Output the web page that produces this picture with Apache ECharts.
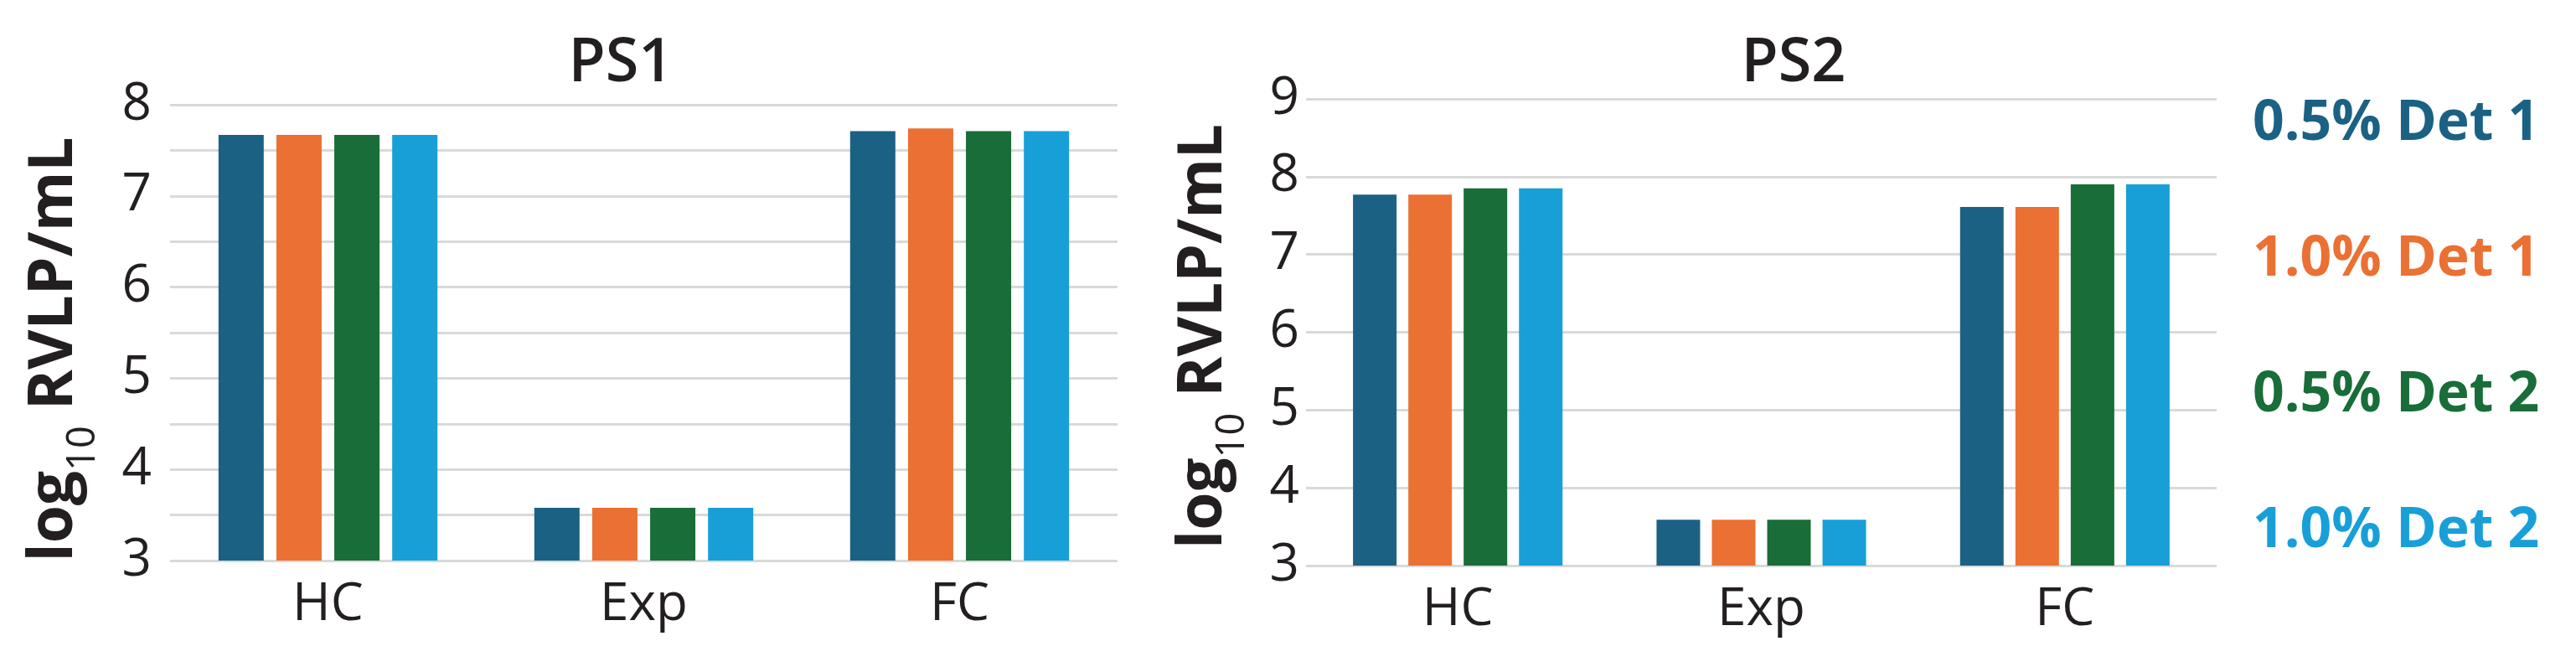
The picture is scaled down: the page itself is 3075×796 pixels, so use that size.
<!DOCTYPE html>
<html>
<head>
<meta charset="utf-8">
<script src="https://cdn.jsdelivr.net/npm/echarts@6/dist/echarts.min.js"></script>
<style>
  html, body { margin: 0; padding: 0; background: #fff; }
  #chart { width: 3075px; height: 796px; }
</style>
</head>
<body>
<div id="chart"></div>
<script>
// categories and series names
var categories = ['HC', 'Exp', 'FC'];
var seriesNames = ['0.5% Det 1', '1.0% Det 1', '0.5% Det 2', '1.0% Det 2'];
var colors = ['#1b6184', '#eb7033', '#196d38', '#189fd7'];

// PS1 values (log10 RVLP/mL), one array per series
var ps1Det1Low = [7.67, 3.58, 7.71];
var ps1Det1High = [7.67, 3.58, 7.74];
var ps1Det2Low = [7.67, 3.58, 7.71];
var ps1Det2High = [7.67, 3.58, 7.71];

// PS2 values
var ps2Det1Low = [7.77, 3.59, 7.61];
var ps2Det1High = [7.77, 3.59, 7.61];
var ps2Det2Low = [7.85, 3.59, 7.90];
var ps2Det2High = [7.85, 3.59, 7.90];

var ps1Data = [ps1Det1Low, ps1Det1High, ps1Det2Low, ps1Det2High];
var ps2Data = [ps2Det1Low, ps2Det1High, ps2Det2Low, ps2Det2High];

var ink = '#231f20';
var gridGray = '#d9d9d9';

function yAxisName(gap, pad) {
  return {
    name: '{a|log}{b|10}{a| RVLP/mL}',
    nameLocation: 'middle',
    nameRotate: 90,
    nameGap: gap,
    nameTextStyle: {
      padding: pad,
      rich: {
        a: { fontFamily: 'Open Sans', fontWeight: 'bold', fontSize: 73, color: ink, lineHeight: 94, verticalAlign: 'top' },
        b: { fontFamily: 'Open Sans', fontWeight: 'normal', fontSize: 47, color: ink, lineHeight: 28, verticalAlign: 'bottom' }
      }
    }
  };
}

function makeYAxis(gridIndex, min, max, step, labelMargin, nameGap, namePad) {
  return Object.assign({
    type: 'value',
    gridIndex: gridIndex,
    min: min,
    max: max,
    interval: step,
    axisLine: { show: false },
    axisTick: { show: false },
    splitLine: { show: true, lineStyle: { color: gridGray, width: 3 } },
    axisLabel: {
      margin: labelMargin,
      fontFamily: 'Open Sans',
      fontWeight: 'normal',
      fontSize: 62,
      color: ink,
      formatter: function (v) { return Number.isInteger(v) ? String(v) : ''; }
    }
  }, yAxisName(nameGap, namePad));
}

function makeXAxis(gridIndex) {
  return {
    type: 'category',
    gridIndex: gridIndex,
    data: categories,
    axisLine: { show: false },
    axisTick: { show: false },
    axisLabel: { margin: 22, fontFamily: 'Open Sans', fontWeight: 'normal', fontSize: 62, color: ink }
  };
}

var series = [];
ps1Data.forEach(function (d, i) {
  series.push({
    name: seriesNames[i], type: 'bar', xAxisIndex: 0, yAxisIndex: 0,
    data: d, barWidth: 54, barGap: '28%', itemStyle: { color: colors[i] }
  });
});
ps2Data.forEach(function (d, i) {
  series.push({
    name: seriesNames[i], type: 'bar', xAxisIndex: 1, yAxisIndex: 1,
    data: d, barWidth: 52, barGap: '27%', itemStyle: { color: colors[i] }
  });
});

var chart = echarts.init(document.getElementById('chart'), null, { renderer: 'canvas' });
chart.setOption({
  backgroundColor: '#fff',
  animation: false,
  title: [
    { text: 'PS1', left: 736, top: 35, textAlign: 'center',
      textStyle: { fontFamily: 'Open Sans', fontWeight: 600, fontSize: 72, color: ink } },
    { text: 'PS2', left: 2136, top: 35, textAlign: 'center',
      textStyle: { fontFamily: 'Open Sans', fontWeight: 600, fontSize: 72, color: ink } }
  ],
  legend: {
    orient: 'vertical',
    left: 2684,
    top: 115,
    padding: 0,
    itemGap: 96,
    itemWidth: 0,
    itemHeight: 0,
    selectedMode: false,
    itemStyle: { opacity: 0 },
    data: seriesNames.map(function (n, i) {
      return { name: n, textStyle: { color: colors[i] } };
    }),
    textStyle: { fontFamily: 'Open Sans', fontWeight: 'bold', fontSize: 66, lineHeight: 66 }
  },
  grid: [
    { left: 203, top: 125, width: 1131, height: 544 },
    { left: 1559, top: 118, width: 1087, height: 557 }
  ],
  xAxis: [makeXAxis(0), makeXAxis(1)],
  yAxis: [
    makeYAxis(0, 3, 8, 0.5, 22, 80, [0, 40, 0, 0]),
    makeYAxis(1, 3, 9, 1, 8, 64, [0, 10, 0, 0])
  ],
  series: series
});
</script>
</body>
</html>
